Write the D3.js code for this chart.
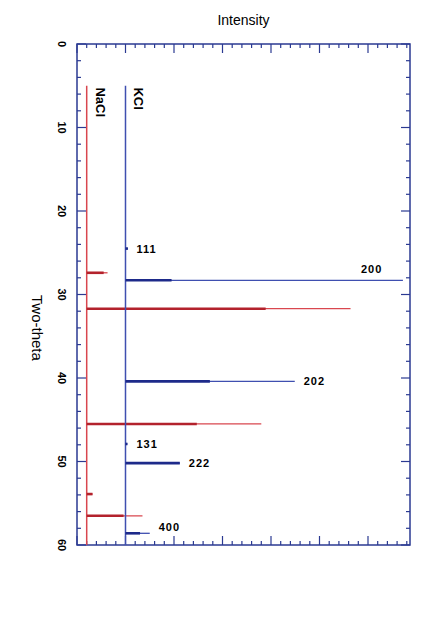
<!DOCTYPE html><html><head><meta charset="utf-8">
<script src="https://cdn.jsdelivr.net/npm/d3@7"></script>
<style>body{margin:0;background:#fff}</style></head><body><svg id="c" width="440" height="643"></svg>
<script>
const twoThetaTicks=[0,10,20,30,40,50,60];
const kclAngles=[24.5,28.3,40.4,47.9,50.2,58.6];
const kclIntensity=[0.05,5.72,3.49,0.04,1.12,0.5];
const kclStrong=[0.05,0.95,1.74,0.04,1.12,0.3];
const kclLabels=["111","200","202","131","222","400"];
const naclAngles=[27.4,31.7,45.5,53.9,56.5];
const naclIntensity=[0.43,5.44,3.6,0.12,1.15];
const naclStrong=[0.35,3.69,2.27,0.12,0.76];
const offsets={NaCl:0.2,KCl:1.0};

const svg=d3.select("#c");
const L=77,R=410,T=44,B=545;
const x=d3.scaleLinear().domain([0,6.866]).range([L,R]);
const y=d3.scaleLinear().domain([0,60]).range([T,B]);
const frame="#2b3a92";
svg.append("rect").attr("x",L).attr("y",T).attr("width",R-L).attr("height",B-T).attr("fill","none").attr("stroke",frame).attr("stroke-width",1.5);
// ticks
const g=svg.append("g").attr("stroke",frame).attr("stroke-width",1.2);
d3.range(0,61,2).forEach(v=>{const len=v%10===0?9:4;
 g.append("line").attr("x1",L).attr("x2",L+len).attr("y1",y(v)).attr("y2",y(v));
 g.append("line").attr("x1",R).attr("x2",R-len).attr("y1",y(v)).attr("y2",y(v));});
d3.range(0,6.87,0.2).forEach(v=>{const maj=Math.abs(v-Math.round(v))<1e-6;const len=maj?9:4;
 g.append("line").attr("x1",x(v)).attr("x2",x(v)).attr("y1",B).attr("y2",B-len);
 g.append("line").attr("x1",x(v)).attr("x2",x(v)).attr("y1",T).attr("y2",T+len);});
twoThetaTicks.forEach(v=>{svg.append("text").attr("transform",`translate(58,${y(v)}) rotate(90)`).attr("text-anchor","middle")
 .attr("font-family","Liberation Sans, Arial").attr("font-weight","bold").attr("font-size",11).text(v);});
svg.append("text").attr("x",(L+R)/2).attr("y",25).attr("text-anchor","middle").attr("font-family","Liberation Sans, Arial").attr("font-size",14).text("Intensity");
svg.append("text").attr("transform",`translate(32,${y(34)}) rotate(90)`).attr("text-anchor","middle").attr("font-family","Liberation Sans, Arial").attr("font-size",15).text("Two-theta");

function series(name,angles,ints,strong,col,dark){
 const o=offsets[name];
 svg.append("line").attr("x1",x(o)).attr("x2",x(o)).attr("y1",y(5)).attr("y2",y(60)).attr("stroke",col).attr("stroke-width",1.5);
 angles.forEach((a,i)=>{
  svg.append("line").attr("x1",x(o)).attr("x2",x(o+ints[i])).attr("y1",y(a)).attr("y2",y(a)).attr("stroke",col).attr("stroke-width",1.3);
  svg.append("line").attr("x1",x(o)).attr("x2",x(o+strong[i])).attr("y1",y(a)).attr("y2",y(a)).attr("stroke",dark).attr("stroke-width",2.6);
 });
 svg.append("text").attr("transform",`translate(${x(o)+9},${y(5.2)}) rotate(90)`).attr("font-family","Liberation Sans, Arial").attr("font-weight","bold").attr("font-size",13).text(name);
}
series("NaCl",naclAngles,naclIntensity,naclStrong,"#d9474f","#b3222c");
series("KCl",kclAngles,kclIntensity,kclStrong,"#3f4fb0","#1d2a8a");
kclAngles.forEach((a,i)=>{const o=offsets.KCl;const tiny=kclIntensity[i]<0.1;const big=kclIntensity[i]>5;
 svg.append("text").attr("x",big?x(o+kclIntensity[i])-42:(tiny?x(o)+11:x(o+kclIntensity[i])+9))
  .attr("y",big?y(a)-7:(i===5?y(a)-2:y(a)+4)).attr("font-family","Liberation Sans, Arial").attr("font-weight","bold").attr("font-size",11).attr("letter-spacing",1).text(kclLabels[i]);});
</script></body></html>
